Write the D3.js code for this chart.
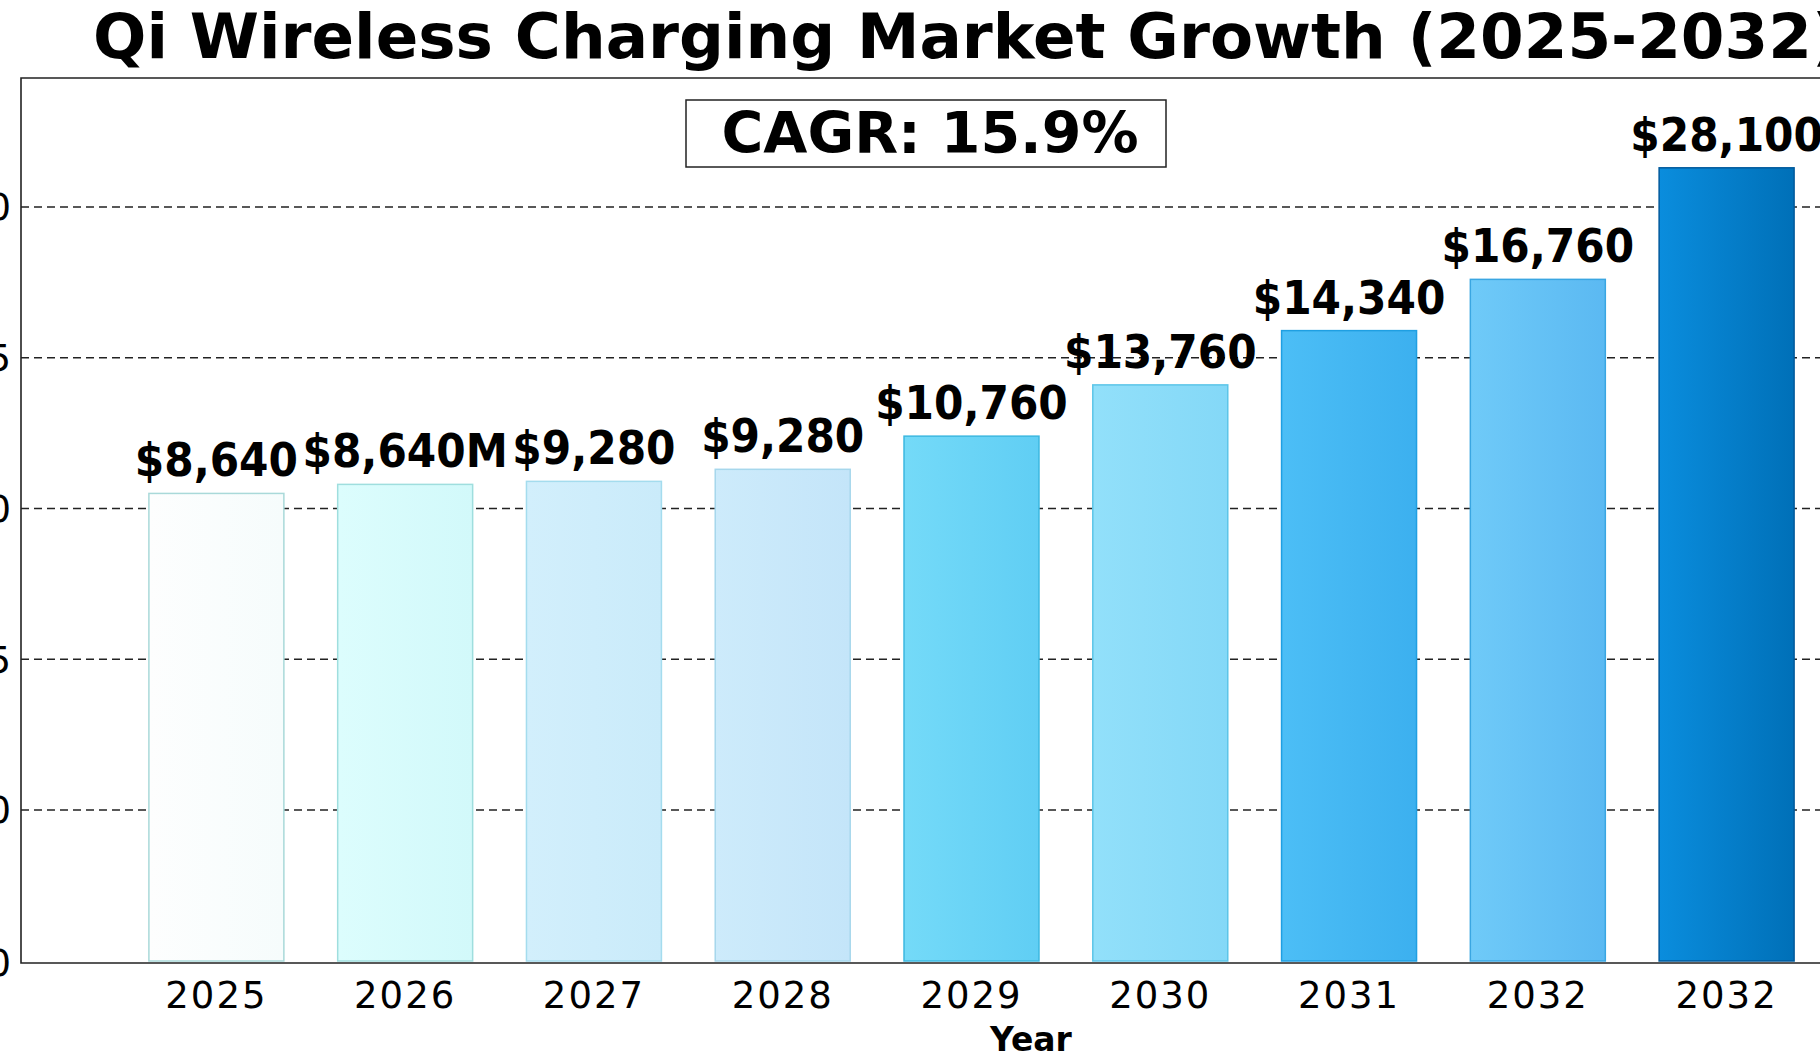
<!DOCTYPE html>
<html>
<head>
<meta charset="utf-8">
<title>Qi Wireless Charging Market Growth</title>
<script src="https://cdn.jsdelivr.net/npm/d3@7"></script>
<style>
  body { margin: 0; background: #fff; overflow: hidden; }
  svg { display: block; font-family: "DejaVu Sans", sans-serif; }
</style>
</head>
<body>
<script>
// data
var years = ["2025", "2026", "2027", "2028", "2029", "2030", "2031", "2032", "2032"];
// bar heights in axis units (the axis is only partly visible)
var barHeights = [20.5, 20.8, 20.9, 21.3, 22.4, 24.1, 25.9, 27.6, 31.3];
var barLabels = ["$8,640", "$8,640M", "$9,280", "$9,280", "$10,760", "$13,760", "$14,340", "$16,760", "$28,100"];
var yTicks = [0, 10, 15, 20, 25, 30];
var cagrText = "CAGR: 15.9%";

var fillLeft = ["#fdfefe", "#dcfdfd", "#d2effc", "#cdebfb", "#74daf8", "#92e0fa", "#4cbef6", "#6fcaf8", "#0a8ddd"];
var fillRight = ["#f6fcfc", "#d2f9fa", "#caebfa", "#c4e5f9", "#60cef4", "#84d8f7", "#3cb0ef", "#5bb9f2", "#0070b8"];
var strokes = ["#a9d9d9", "#9fdede", "#a4dcee", "#a6d7ec", "#3cb8e0", "#5cc5e8", "#1f9fe2", "#3aa6e2", "#005a9c"];

var W = 1820, H = 1060;
var plotLeft = 21, plotTop = 78, plotBottom = 963, plotRight = 1840;

var svg = d3.select("body").append("svg")
    .attr("width", W)
    .attr("height", H);

var x = d3.scaleBand()
    .domain(d3.range(years.length))
    .range([122, 1821])
    .paddingInner(0.285)
    .paddingOuter(0.1425);

// the gridlines are evenly spaced but the labels are not
var y = d3.scaleLinear()
    .domain([0, 10, 30])
    .range([plotBottom, 810, 207]);

// gradients for bars
var defs = svg.append("defs");
barHeights.forEach(function (d, i) {
    var g = defs.append("linearGradient")
        .attr("id", "grad" + i)
        .attr("x1", "0%").attr("x2", "100%")
        .attr("y1", "0%").attr("y2", "0%");
    g.append("stop").attr("offset", "0%").attr("stop-color", fillLeft[i]);
    g.append("stop").attr("offset", "100%").attr("stop-color", fillRight[i]);
});

// grid
svg.append("g").selectAll("line")
    .data(yTicks.slice(1))
    .enter().append("line")
    .attr("x1", plotLeft).attr("x2", plotRight)
    .attr("y1", function (d) { return y(d); })
    .attr("y2", function (d) { return y(d); })
    .attr("stroke", "#222")
    .attr("stroke-width", 1.5)
    .attr("stroke-dasharray", "8,5");

// bars
svg.append("g").selectAll("rect")
    .data(barHeights)
    .enter().append("rect")
    .attr("x", function (d, i) { return x(i); })
    .attr("width", x.bandwidth())
    .attr("y", function (d) { return y(d); })
    .attr("height", function (d) { return y(0) - y(d) - 2; })
    .attr("fill", function (d, i) { return "url(#grad" + i + ")"; })
    .attr("stroke", function (d, i) { return strokes[i]; })
    .attr("stroke-width", 1.5);

// value labels
svg.append("g").selectAll("text")
    .data(barHeights)
    .enter().append("text")
    .attr("x", function (d, i) { return x(i) + x.bandwidth() / 2; })
    .attr("y", function (d) { return y(d) - 17; })
    .attr("text-anchor", "middle")
    .style("font-family", "'DejaVu Sans Condensed', 'DejaVu Sans', sans-serif")
    .style("font-stretch", "condensed")
    .style("font-weight", "bold")
    .style("font-size", "47px")
    .attr("fill", "#000")
    .text(function (d, i) { return barLabels[i]; });

// frame
svg.append("path")
    .attr("d", "M" + plotRight + "," + plotTop + "H" + plotLeft + "V" + plotBottom + "H" + plotRight)
    .attr("fill", "none")
    .attr("stroke", "#222")
    .attr("stroke-width", 1.6);

// y axis labels (mostly off the left edge)
svg.append("g").selectAll("text")
    .data(yTicks)
    .enter().append("text")
    .attr("x", plotLeft - 10)
    .attr("y", function (d) { return y(d); })
    .attr("dy", "0.36em")
    .attr("text-anchor", "end")
    .style("font-size", "37px")
    .text(function (d) { return "$" + d; });

// x axis labels
svg.append("g").selectAll("text")
    .data(years)
    .enter().append("text")
    .attr("x", function (d, i) { return x(i) + x.bandwidth() / 2; })
    .attr("y", 1008)
    .attr("text-anchor", "middle")
    .style("font-size", "37px")
    .style("letter-spacing", "2px")
    .text(function (d) { return d; });

svg.append("text")
    .attr("x", 1031)
    .attr("y", 1051)
    .attr("text-anchor", "middle")
    .style("font-size", "33px")
    .style("font-weight", "bold")
    .text("Year");

// title
svg.append("text")
    .attr("x", 93)
    .attr("y", 58)
    .style("font-size", "62.8px")
    .style("font-weight", "bold")
    .text("Qi Wireless Charging Market Growth (2025-2032)");

// CAGR box
svg.append("rect")
    .attr("x", 686).attr("y", 100)
    .attr("width", 480).attr("height", 67)
    .attr("fill", "#fff")
    .attr("stroke", "#222")
    .attr("stroke-width", 1.5);

svg.append("text")
    .attr("x", 930)
    .attr("y", 153)
    .attr("text-anchor", "middle")
    .style("font-size", "57px")
    .style("font-weight", "bold")
    .text(cagrText);
</script>
</body>
</html>
